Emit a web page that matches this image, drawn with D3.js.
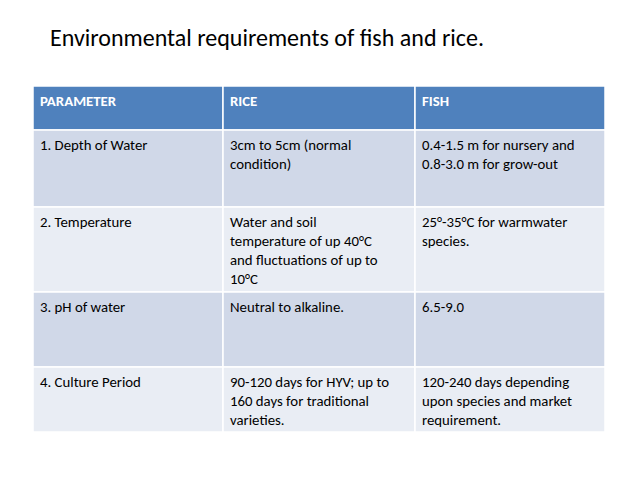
<!DOCTYPE html>
<html><head><meta charset="utf-8">
<script src="https://cdn.jsdelivr.net/npm/d3@7"></script>
<style>body{margin:0;background:#fff}</style></head>
<body><svg id="c" width="638" height="478"></svg>
<script>
const title = "Environmental requirements of fish and rice.";
const headers = ["PARAMETER", "RICE", "FISH"];
const parameters = ["1. Depth of Water", "2. Temperature", "3. pH of water", "4. Culture Period"];
const riceValues = [
  ["3cm to 5cm (normal", "condition)"],
  ["Water and soil", "temperature of up 40°C", "and fluctuations of up to", "10°C"],
  ["Neutral to alkaline."],
  ["90-120 days for HYV; up to", "160 days for traditional", "varieties."]
];
const fishValues = [
  ["0.4-1.5 m for nursery and", "0.8-3.0 m for grow-out"],
  ["25°-35°C for warmwater", "species."],
  ["6.5-9.0"],
  ["120-240 days depending", "upon species and market", "requirement."]
];
const rowHeights = [44, 77, 85, 75, 65];

const svg = d3.select("#c");
const font = "Carlito, 'Open Sans', 'Liberation Sans', sans-serif";
svg.append("text").attr("x", 50).attr("y", 46).attr("font-family", font)
  .attr("font-size", 24).attr("fill", "#000").text(title);

const x = d3.scaleOrdinal().domain([0,1,2]).range([33, 223, 415]);
const widths = [190, 192, 190];
const ys = [86]; rowHeights.forEach(h => ys.push(ys[ys.length-1] + h));

const rows = [headers.map(h => [h])].concat(parameters.map((p, i) => [[p], riceValues[i], fishValues[i]]));
const fills = ["#4F81BD", "#D0D8E8", "#E9EDF4", "#D0D8E8", "#E9EDF4"];

rows.forEach((row, r) => {
  row.forEach((lines, c) => {
    const g = svg.append("g");
    g.append("rect").attr("x", x(c)).attr("y", ys[r]).attr("width", widths[c])
      .attr("height", rowHeights[r]).attr("fill", fills[r]).attr("stroke", "#fff").attr("stroke-width", 1.5);
    g.append("text").attr("font-family", font).attr("font-size", 14.8)
      .attr("font-weight", r === 0 ? "bold" : "normal")
      .attr("fill", r === 0 ? "#fff" : "#000")
      .selectAll("tspan").data(lines).join("tspan")
      .attr("x", x(c) + 7).attr("y", (d, k) => ys[r] + 20 + k * 19).text(d => d);
  });
});
</script></body></html>
